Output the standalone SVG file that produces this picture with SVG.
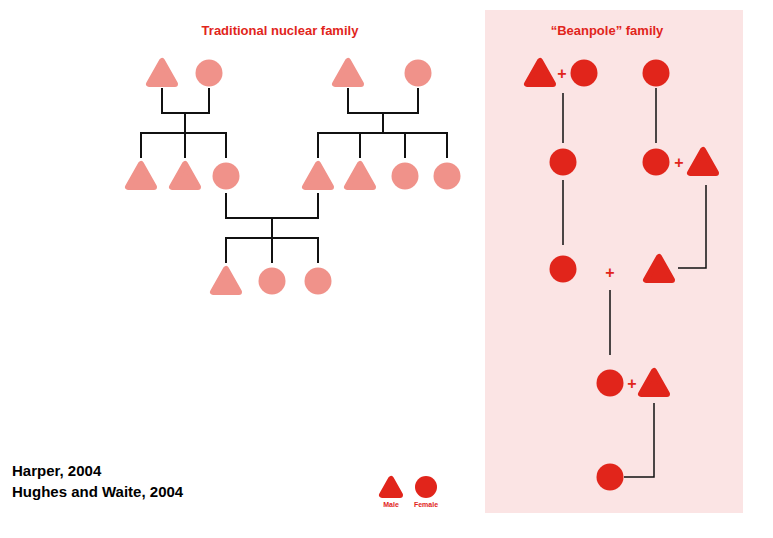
<svg xmlns="http://www.w3.org/2000/svg" xmlns:xlink="http://www.w3.org/1999/xlink" width="773" height="538" viewBox="0 0 773 538">
<style>
.lt{fill:#F0928A;stroke:#F0928A;stroke-width:6;stroke-linejoin:round}
.lc{fill:#F0928A}
.dt{fill:#E1251B;stroke:#E1251B;stroke-width:6;stroke-linejoin:round}
.dc{fill:#E1251B}
.ln{fill:none;stroke:#111;stroke-width:2}
.rl{fill:none;stroke:#111;stroke-width:1.5}
.title{font-family:"Liberation Sans",Arial,sans-serif;font-weight:bold;font-size:13px;fill:#E1251B;text-anchor:middle}
.plus{font-family:"Liberation Sans",Arial,sans-serif;font-weight:bold;font-size:16px;fill:#E1251B;text-anchor:middle}
.cite{font-family:"Liberation Sans",Arial,sans-serif;font-weight:bold;font-size:15px;fill:#000}
.leg{font-family:"Liberation Sans",Arial,sans-serif;font-weight:bold;font-size:7px;fill:#E1251B;text-anchor:middle}
</style>
<defs>
<polygon id="tri" points="0,-12 -13,11 13,11"/>
</defs>
<rect width="773" height="538" fill="#fff"/>
<rect x="485" y="10" width="258" height="503" fill="#FBE4E4"/>
<text class="title" x="280" y="35">Traditional nuclear family</text>
<text class="title" x="607" y="35">“Beanpole” family</text>
<g id="connectors">
<path class="ln" d="M162,88V113H209V88M185,113V133M141,158V133H226V158M185,133V158"/>
<path class="ln" d="M348,88V113H418V88M383,113V133M318,158V133H447V158M360,133V158M405,133V158"/>
<path class="ln" d="M226,193V218H318V193M272,218V238M226,263V238H318V263M272,238V263"/>
<path class="rl" d="M563,93V143M563,180V245M656,88V143M706,185V268H678M610,290V355M654,403V477H624"/>
</g>
<g id="trad-g1"><use href="#tri" class="lt" x="162" y="73"/><circle class="lc" cx="209" cy="73" r="13.5"/><use href="#tri" class="lt" x="348" y="73"/><circle class="lc" cx="418" cy="73" r="13.5"/></g>
<g id="trad-g2"><use href="#tri" class="lt" x="141" y="176"/><use href="#tri" class="lt" x="185" y="176"/><circle class="lc" cx="226" cy="176" r="13.5"/><use href="#tri" class="lt" x="318" y="176"/><use href="#tri" class="lt" x="360" y="176"/><circle class="lc" cx="405" cy="176" r="13.5"/><circle class="lc" cx="447" cy="176" r="13.5"/></g>
<g id="trad-g3"><use href="#tri" class="lt" x="226" y="281"/><circle class="lc" cx="272" cy="281" r="13.5"/><circle class="lc" cx="318" cy="281" r="13.5"/></g>
<g id="bean">
<use href="#tri" class="dt" x="540" y="73"/><text class="plus" x="562" y="79">+</text><circle class="dc" cx="584" cy="73" r="13.5"/>
<circle class="dc" cx="656" cy="73" r="13.5"/>
<circle class="dc" cx="563" cy="162" r="13.5"/>
<circle class="dc" cx="656" cy="162" r="13.5"/><text class="plus" x="679" y="168">+</text><use href="#tri" class="dt" x="703" y="162"/>
<circle class="dc" cx="563" cy="269" r="13.5"/><text class="plus" x="610" y="278">+</text><use href="#tri" class="dt" x="659" y="269"/>
<circle class="dc" cx="610" cy="383" r="13.5"/><text class="plus" x="632" y="389">+</text><use href="#tri" class="dt" x="654" y="383"/>
<circle class="dc" cx="610" cy="477" r="13.5"/>
</g>
<g id="legend">
<polygon points="391,479 382,495 400,495" class="dt" stroke-width="5"/><circle class="dc" cx="426" cy="487" r="11"/>
<text class="leg" x="391" y="507">Male</text><text class="leg" x="426" y="507">Female</text>
</g>
<text class="cite" x="12" y="476">Harper, 2004</text>
<text class="cite" x="12" y="497">Hughes and Waite, 2004</text>
</svg>
